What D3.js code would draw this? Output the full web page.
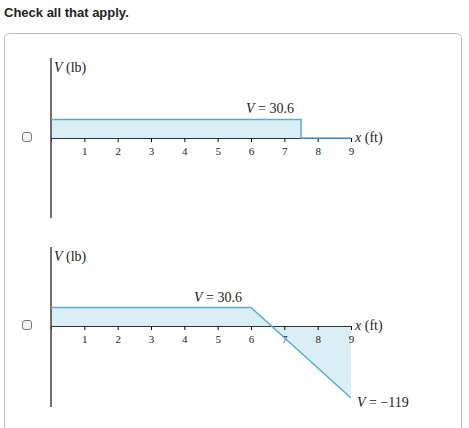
<!DOCTYPE html><html><head><meta charset="utf-8"><script src="https://cdn.jsdelivr.net/npm/d3@7"></script>
<style>body{margin:0;background:#fff}</style></head><body><svg id="c" width="469" height="428"></svg>
<script>
const xTicks=[1,2,3,4,5,6,7,8,9];
const shear1X=[0,7.5,7.5,9];
const shear1V=[30.6,30.6,0,0];
const shear2X=[0,6,9];
const shear2V=[30.6,30.6,-119];
const labels1=[{x:7.5,v:30.6,t:"30.6"}];
const svg=d3.select("#c");
svg.append("text").attr("x",4).attr("y",17).attr("font-family","Liberation Sans, Arial").attr("font-weight","bold").attr("font-size",13).attr("fill","#222").text("Check all that apply.");
svg.append("rect").attr("x",4.5).attr("y",33.5).attr("width",457).attr("height",420).attr("rx",5).attr("fill","none").attr("stroke","#bbb");
const x=d3.scaleLinear().domain([0,9]).range([51,351]);
function chart(zeroY,axTop,axBot,X,V,fillPoly,lbls){
  const y=d3.scaleLinear().domain([0,30.6]).range([zeroY,zeroY-18.5]);
  const g=svg.append("g");
  // checkbox
  g.append("rect").attr("x",22.5).attr("y",zeroY-5.5).attr("width",9).attr("height",9).attr("rx",2.5).attr("fill","#f4f4f4").attr("stroke","#777");
  const pts=X.map((d,i)=>[x(d),y(V[i])]);
  g.append("path").attr("d",d3.area().x(d=>x(d[0])).y0(y(0)).y1(d=>y(d[1]))(fillPoly)).attr("fill","#daeef6");
  g.append("line").attr("x1",51).attr("x2",51).attr("y1",axTop).attr("y2",axBot).attr("stroke","#111").attr("stroke-width",1.2);
  const ax=g.append("g").attr("transform",`translate(0,${zeroY})`).call(d3.axisBottom(x).tickValues(xTicks).tickSize(4).tickFormat(d3.format("d")));
  ax.select(".domain").attr("stroke","#333");
  ax.selectAll("text").attr("font-family","Liberation Serif").attr("font-size",11).attr("fill","#222").attr("dy","0.9em");
  g.append("path").attr("d",d3.line()(pts)).attr("fill","none").attr("stroke","#5aaccc").attr("stroke-width",1.5);
  g.append("text").attr("x",355).attr("y",zeroY+4).attr("font-family","Liberation Serif").attr("font-size",14).attr("fill","#222").html('<tspan font-style="italic">x</tspan> (ft)');
  g.append("text").attr("x",54).attr("y",axTop+14).attr("font-family","Liberation Serif").attr("font-size",14).attr("fill","#222").html('<tspan font-style="italic">V</tspan> (lb)');
  lbls.forEach(l=>g.append("text").attr("x",l.px).attr("y",l.py).attr("text-anchor",l.a||"middle").attr("font-family","Liberation Serif").attr("font-size",14).attr("fill","#222").html('<tspan font-style="italic">V</tspan> = '+l.t));
  return y;
}
chart(138,58,218,shear1X,shear1V,[[0,30.6],[7.5,30.6]],[{px:270,py:113,t:"30.6"}]);
chart(326,247,407,shear2X,shear2V,[[0,30.6],[6,30.6],[9,-119]],[{px:218,py:302,t:"30.6"},{px:357,py:407,a:"start",t:"\u2212119"}]);
</script></body></html>
